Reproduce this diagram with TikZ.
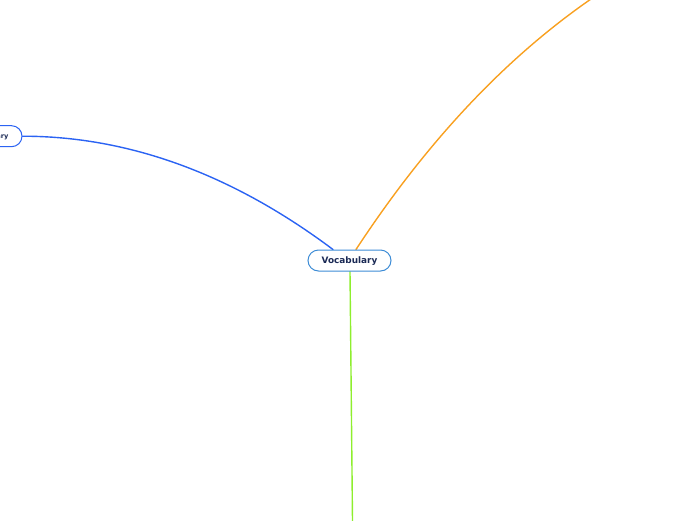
\documentclass[tikz,border=0pt]{standalone}
\usepackage{fontspec}
\setmainfont{DejaVu Sans}
\usetikzlibrary{calc,backgrounds}
\definecolor{bluelink}{HTML}{2B63F3}
\definecolor{orangelink}{HTML}{F8A020}
\definecolor{greenlink}{HTML}{8EEE2E}
\definecolor{nodeborder}{HTML}{3D8CD6}
\definecolor{nodetext}{HTML}{1B2A55}
\tikzset{
  topicbox/.style={draw=nodeborder, line width=1pt, fill=white, rounded corners=10.5pt,
    minimum width=83pt, minimum height=21pt, inner sep=0pt, text depth=0pt,
    font=\fontsize{8.9}{10}\selectfont\bfseries, text=nodetext},
  subbox/.style={draw=bluelink, line width=1pt, fill=white, rounded corners=10.5pt,
    minimum width=60pt, minimum height=21pt, inner sep=0pt, text width=33pt, align=right,
    text depth=0pt, font=\fontsize{6.6}{8}\selectfont\bfseries, text=nodetext},
  link/.style={line width=1.4pt, line cap=round}
}
\begin{document}
\begin{tikzpicture}[x=1pt,y=-1pt]
\useasboundingbox (0,0) rectangle (696,520);
\node[topicbox] (voc) at (349.5,260.5) {Vocabulary};
\node[subbox] (left) at (-8,136.2) {ary};
\coordinate (orangeend) at (591,-1);
\coordinate (greenend) at (352.5,521);
\begin{scope}[on background layer]
\draw[link, bluelink] ($(voc.north)+(-16.5,0)$) .. controls (232.3,174.1) and (128.7,136.2) .. (left.east);
\draw[link, orangelink] ($(voc.north)+(6.5,0)$) .. controls (426,142.7) and (504.3,59) .. (orangeend);
\draw[link, greenlink] (voc.south) ++(0.5,0) -- (greenend);
\end{scope}
\end{tikzpicture}
\end{document}
